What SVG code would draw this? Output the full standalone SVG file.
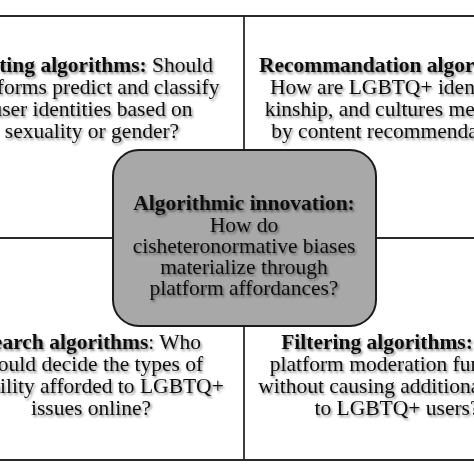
<svg xmlns="http://www.w3.org/2000/svg" width="474" height="474" viewBox="0 0 474 474">
<defs>
<filter id="sh" x="-10%" y="-20%" width="120%" height="140%">
<feDropShadow dx="1.5" dy="2" stdDeviation="1.2" flood-color="#000" flood-opacity="0.45"/>
</filter>
<style>
.t{font-family:"Liberation Serif","Times New Roman",serif;font-size:21.5px;fill:#111;text-anchor:middle;filter:url(#sh)}
.b{font-weight:bold}
.e{text-anchor:end}
.ln{stroke:#2a2a2a;stroke-width:1.8;fill:none}
</style>
</defs>
<rect width="474" height="474" fill="#fff"/>
<g id="connectors">
<line class="ln" x1="0" y1="16" x2="474" y2="16"/>
<line class="ln" x1="0" y1="460" x2="474" y2="460"/>
<line class="ln" x1="244" y1="16" x2="244" y2="460"/>
<line class="ln" x1="0" y1="238" x2="474" y2="238"/>
</g>
<g id="targeting">
<text class="t e" x="213" y="72"><tspan class="b">Targeting algorithms:</tspan> Should</text>
<text class="t" x="92" y="94">platforms predict and classify</text>
<text class="t" x="92" y="116">user identities based on</text>
<text class="t" x="92" y="138">sexuality or gender?</text>
</g>
<g id="recommendation">
<text class="t b" x="396" y="72">Recommandation algorithms:</text>
<text class="t" x="396" y="94">How are LGBTQ+ identities,</text>
<text class="t" x="396" y="116">kinship, and cultures mediated</text>
<text class="t" x="396" y="138">by content recommendation?</text>
</g>
<g id="search">
<text class="t" x="91" y="349"><tspan class="b">Search algorithms</tspan>: Who</text>
<text class="t" x="91" y="371">should decide the types of</text>
<text class="t" x="91" y="393">visibility afforded to LGBTQ+</text>
<text class="t" x="91" y="415">issues online?</text>
</g>
<g id="filtering">
<text class="t" x="397" y="349"><tspan class="b">Filtering algorithms:</tspan> Can</text>
<text class="t" x="397" y="371">platform moderation function</text>
<text class="t" x="397" y="393">without causing additional harm</text>
<text class="t" x="397" y="415">to LGBTQ+ users?</text>
</g>
<g id="center">
<rect x="113" y="150" width="263" height="176" rx="26" ry="26" fill="#a8a8a8" stroke="#1a1a1a" stroke-width="2"/>
<text class="t b" x="244" y="210">Algorithmic innovation:</text>
<text class="t" x="244" y="232">How do</text>
<text class="t" x="244" y="253">cisheteronormative biases</text>
<text class="t" x="244" y="274">materialize through</text>
<text class="t" x="244" y="295">platform affordances?</text>
</g>
</svg>
